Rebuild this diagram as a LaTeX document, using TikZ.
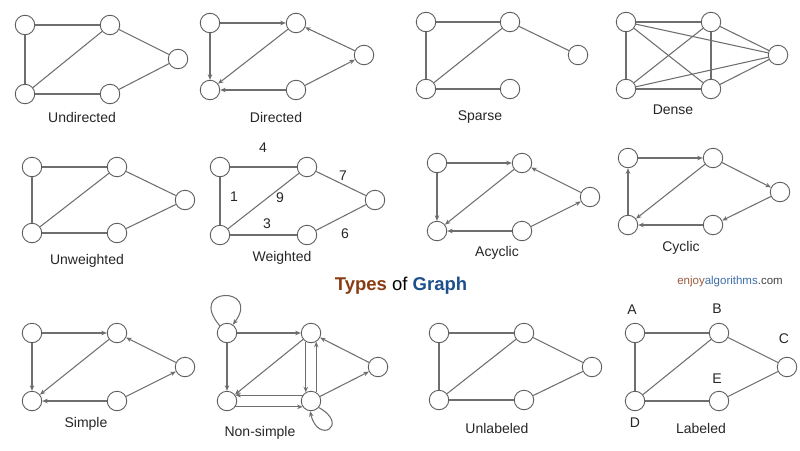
\documentclass[tikz,border=0pt]{standalone}
\usepackage{fontspec}
\setmainfont{Liberation Sans}
\usetikzlibrary{arrows.meta}
\definecolor{edgegray}{HTML}{6E6E6E}
\definecolor{circgray}{HTML}{5E5E5E}
\definecolor{typesbrown}{HTML}{8A3B12}
\definecolor{graphblue}{HTML}{1C4F8C}
\definecolor{enjoybrown}{HTML}{9A5B3E}
\definecolor{algoblue}{HTML}{3D6FA8}
\definecolor{comgray}{HTML}{444444}
\begin{document}
\begin{tikzpicture}[x=1pt,y=-1pt,
  vtx/.style={circle,draw=circgray,line width=0.9pt,minimum size=19.5pt,inner sep=0pt,fill=white},
  edge/.style={draw=edgegray,line width=1.05pt},
  arr/.style={edge,-{Stealth[length=5.5pt,width=4.5pt]}},
  lbl/.style={font=\fontsize{14}{16}\selectfont,text=black!85,inner sep=0pt},
  wt/.style={font=\fontsize{14}{16}\selectfont,text=black!85,inner sep=0pt}]
\useasboundingbox[fill=white] (0,0) rectangle (800,450);

% ---------- Undirected ----------
\node[vtx] (uA) at (25,25) {};
\node[vtx] (uB) at (110,25) {};
\node[vtx] (uC) at (178,59) {};
\node[vtx] (uD) at (25,94) {};
\node[vtx] (uE) at (110,94) {};
\draw[edge] (uA) -- (uB); \draw[edge] (uA) -- (uD); \draw[edge] (uD) -- (uB);
\draw[edge] (uB) -- (uC); \draw[edge] (uD) -- (uE); \draw[edge] (uE) -- (uC);
\node[lbl] (uL) at (82,117) {Undirected};

% ---------- Directed ----------
\node[vtx] (dA) at (210,23) {};
\node[vtx] (dB) at (296,23) {};
\node[vtx] (dC) at (364,55) {};
\node[vtx] (dD) at (210,90) {};
\node[vtx] (dE) at (296,90) {};
\draw[arr] (dA) -- (dB); \draw[arr] (dA) -- (dD); \draw[arr] (dB) -- (dD);
\draw[arr] (dE) -- (dD); \draw[arr] (dC) -- (dB); \draw[arr] (dE) -- (dC);
\node[lbl] (dL) at (276,117) {Directed};

% ---------- Sparse ----------
\node[vtx] (sA) at (426,22) {};
\node[vtx] (sB) at (510,22) {};
\node[vtx] (sC) at (578,55) {};
\node[vtx] (sD) at (426,89) {};
\node[vtx] (sE) at (510,89) {};
\draw[edge] (sA) -- (sB); \draw[edge] (sA) -- (sD); \draw[edge] (sD) -- (sB);
\draw[edge] (sB) -- (sC); \draw[edge] (sD) -- (sE);
\node[lbl] (sL) at (480,117) {Sparse};

% ---------- Dense ----------
\node[vtx] (nA) at (626,22) {};
\node[vtx] (nB) at (711,22) {};
\node[vtx] (nC) at (778,55) {};
\node[vtx] (nD) at (626,89) {};
\node[vtx] (nE) at (711,89) {};
\draw[edge] (nA) -- (nB); \draw[edge] (nA) -- (nC); \draw[edge] (nA) -- (nD); \draw[edge] (nA) -- (nE);
\draw[edge] (nB) -- (nC); \draw[edge] (nB) -- (nD); \draw[edge] (nB) -- (nE);
\draw[edge] (nC) -- (nD); \draw[edge] (nC) -- (nE); \draw[edge] (nD) -- (nE);
\node[lbl] (nL) at (673,110) {Dense};

% ---------- Unweighted ----------
\node[vtx] (wA) at (32,167) {};
\node[vtx] (wB) at (117,167) {};
\node[vtx] (wC) at (185,200) {};
\node[vtx] (wD) at (32,233) {};
\node[vtx] (wE) at (117,233) {};
\draw[edge] (wA) -- (wB); \draw[edge] (wA) -- (wD); \draw[edge] (wD) -- (wB);
\draw[edge] (wB) -- (wC); \draw[edge] (wD) -- (wE); \draw[edge] (wE) -- (wC);
\node[lbl] (wL) at (87,261) {Unweighted};

% ---------- Weighted ----------
\node[vtx] (gA) at (220,167) {};
\node[vtx] (gB) at (307,167) {};
\node[vtx] (gC) at (375,200) {};
\node[vtx] (gD) at (220,235) {};
\node[vtx] (gE) at (307,235) {};
\draw[edge] (gA) -- (gB); \draw[edge] (gA) -- (gD); \draw[edge] (gD) -- (gB);
\draw[edge] (gB) -- (gC); \draw[edge] (gD) -- (gE); \draw[edge] (gE) -- (gC);
\node[wt] (g4) at (263,148) {4};
\node[wt] (g1) at (234,197) {1};
\node[wt] (g9) at (280,198) {9};
\node[wt] (g7) at (343,176) {7};
\node[wt] (g3) at (267,224) {3};
\node[wt] (g6) at (345,234) {6};
\node[lbl] (gL) at (282,258) {Weighted};

% ---------- Acyclic ----------
\node[vtx] (aA) at (437,163) {};
\node[vtx] (aB) at (522,163) {};
\node[vtx] (aC) at (590,197) {};
\node[vtx] (aD) at (437,231) {};
\node[vtx] (aE) at (522,231) {};
\draw[arr] (aA) -- (aB); \draw[arr] (aA) -- (aD); \draw[arr] (aB) -- (aD);
\draw[arr] (aE) -- (aD); \draw[arr] (aC) -- (aB); \draw[arr] (aE) -- (aC);
\node[lbl] (aL) at (497,253) {Acyclic};

% ---------- Cyclic ----------
\node[vtx] (cA) at (628,158) {};
\node[vtx] (cB) at (713,158) {};
\node[vtx] (cC) at (780,192) {};
\node[vtx] (cD) at (628,225) {};
\node[vtx] (cE) at (713,225) {};
\draw[arr] (cA) -- (cB); \draw[arr] (cB) -- (cC); \draw[arr] (cC) -- (cE);
\draw[arr] (cE) -- (cD); \draw[arr] (cD) -- (cA); \draw[arr] (cB) -- (cD);
\node[lbl] (cL) at (681,248) {Cyclic};

% ---------- Title ----------
\node[inner sep=0pt,font=\fontsize{18.5}{20}\selectfont] (title) at (401,286)
  {\textbf{\color{typesbrown}Types} of \textbf{\color{graphblue}Graph}};
\node[inner sep=0pt,font=\fontsize{11.5}{13}\selectfont] (site) at (730,282)
  {\color{enjoybrown}enjoy\color{algoblue}algorithms\color{comgray}.com};

% ---------- Simple ----------
\node[vtx] (pA) at (32,333) {};
\node[vtx] (pB) at (117,333) {};
\node[vtx] (pC) at (185,367) {};
\node[vtx] (pD) at (32,401) {};
\node[vtx] (pE) at (117,401) {};
\draw[arr] (pA) -- (pB); \draw[arr] (pA) -- (pD); \draw[arr] (pB) -- (pD);
\draw[arr] (pE) -- (pD); \draw[arr] (pC) -- (pB); \draw[arr] (pE) -- (pC);
\node[lbl] (pL) at (86,424) {Simple};

% ---------- Non-simple ----------
\node[vtx] (mA) at (227,333) {};
\node[vtx] (mB) at (311,333) {};
\node[vtx] (mC) at (378,367) {};
\node[vtx] (mD) at (227,401) {};
\node[vtx] (mE) at (311,401) {};
\draw[arr] (mA) -- (mB); \draw[arr] (mA) -- (mD); \draw[arr] (mB) -- (mD);
\draw[arr] (mC) -- (mB); \draw[arr] (mE) -- (mC);
\draw[arr] (mB.-121) -- (mE.121);
\draw[arr] (mE.59) -- (mB.-59);
\draw[arr] (mE.145) -- (mD.35);
\draw[arr] (mD.-35) -- (mE.-145);
\draw[arr] (mA.135) .. controls (186,286) and (262,286) .. (mA.55);
\draw[arr] (mE.-40) .. controls (350,425) and (318,445) .. (mE.-95);
\node[lbl] (mL) at (260,433) {Non-simple};

% ---------- Unlabeled ----------
\node[vtx] (lA) at (439,333) {};
\node[vtx] (lB) at (524,333) {};
\node[vtx] (lC) at (592,367) {};
\node[vtx] (lD) at (439,400) {};
\node[vtx] (lE) at (524,400) {};
\draw[edge] (lA) -- (lB); \draw[edge] (lA) -- (lD); \draw[edge] (lD) -- (lB);
\draw[edge] (lB) -- (lC); \draw[edge] (lD) -- (lE); \draw[edge] (lE) -- (lC);
\node[lbl] (lL) at (497,428) {Unlabeled};

% ---------- Labeled ----------
\node[vtx] (bA) at (635,333) {};
\node[vtx] (bB) at (719,333) {};
\node[vtx] (bC) at (787,367) {};
\node[vtx] (bD) at (635,401) {};
\node[vtx] (bE) at (719,401) {};
\draw[edge] (bA) -- (bB); \draw[edge] (bA) -- (bD); \draw[edge] (bD) -- (bB);
\draw[edge] (bB) -- (bC); \draw[edge] (bD) -- (bE); \draw[edge] (bE) -- (bC);
\node[wt] (bAl) at (632,310) {A};
\node[wt] (bBl) at (717,309) {B};
\node[wt] (bCl) at (784,339) {C};
\node[wt] (bEl) at (717,379) {E};
\node[wt] (bDl) at (635,423) {D};
\node[lbl] (bL) at (701,428) {Labeled};
\end{tikzpicture}
\end{document}
